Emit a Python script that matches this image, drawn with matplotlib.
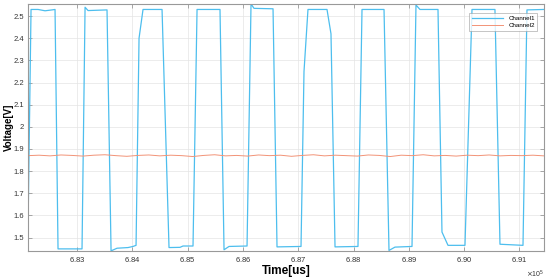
import numpy as np
import matplotlib
matplotlib.use("Agg")
import matplotlib.pyplot as plt
from matplotlib.ticker import ScalarFormatter

plt.rcParams["font.family"] = ["Liberation Sans", "DejaVu Sans"]

# Channel1 - vertices of the square wave (time in us, voltage in V)
ch1_t = [682114, 682168, 682295, 682421, 682548, 682602, 682656, 683090,
         683145, 683199, 683542, 683615, 683723, 683922, 684012, 684067,
         684121, 684193, 684537, 684663, 684862, 684916, 685097, 685170,
         685585, 685658, 685748, 686074, 686146, 686200, 686544, 686616,
         687050, 687104, 687176, 687520, 687592, 687665, 688080, 688153,
         688551, 688641, 688749, 689057, 689129, 689201, 689527, 689599,
         689708, 690015, 690142, 690557, 690648, 691064, 691136, 691443]
ch1_v = [1.55, 2.53, 2.53, 2.524, 2.528, 2.53, 1.449, 1.449,
         2.54, 2.525, 2.528, 1.44, 1.452, 1.455, 1.46, 1.465,
         2.40, 2.53, 2.53, 1.455, 1.456, 1.462, 1.462, 2.53,
         2.53, 1.445, 1.46, 1.462, 2.555, 2.535, 2.533, 1.458,
         1.46, 2.25, 2.53, 2.53, 2.42, 1.458, 1.46, 2.53,
         2.53, 1.442, 1.457, 1.46, 2.55, 2.53, 2.53, 1.525,
         1.465, 1.465, 2.53, 2.53, 1.47, 1.465, 2.528, 2.53]

# Channel2 - nearly flat trace around 1.87 V
ch2_v = [1.870, 1.872, 1.869, 1.873, 1.871, 1.868, 1.872, 1.874, 1.870, 1.867,
         1.871, 1.873, 1.869, 1.872, 1.870, 1.866, 1.871, 1.874, 1.869, 1.871,
         1.868, 1.873, 1.870, 1.872, 1.867, 1.871, 1.874, 1.869, 1.872, 1.870,
         1.868, 1.873, 1.871, 1.866, 1.872, 1.870, 1.874, 1.869, 1.871, 1.868,
         1.872, 1.870, 1.873, 1.869, 1.871, 1.870, 1.872, 1.869]
ch2_t = np.linspace(ch1_t[0], ch1_t[-1], len(ch2_v))

xticks = [683000, 684000, 685000, 686000, 687000, 688000, 689000, 690000, 691000]
yticks = [1.5, 1.6, 1.7, 1.8, 1.9, 2.0, 2.1, 2.2, 2.3, 2.4, 2.5]
ytick_labels = ["1.5", "1.6", "1.7", "1.8", "1.9", "2", "2.1", "2.2", "2.3", "2.4", "2.5"]

fig = plt.figure(figsize=(5.5, 2.8), dpi=100)
ax = fig.add_axes([0.051, 0.104, 0.938, 0.882])

ax.plot(ch1_t, ch1_v, color="#4DBEEE", lw=0.9, label="Channel1")
ax.plot(ch2_t, ch2_v, color="#F29377", lw=0.7, label="Channel2")

ax.set_xlim(ch1_t[0], ch1_t[-1])
ax.set_ylim(1.44, 2.555)
ax.set_xticks(xticks)
ax.set_yticks(yticks)
ax.set_yticklabels(ytick_labels)

fmt = ScalarFormatter(useMathText=True)
fmt.set_scientific(True)
fmt.set_powerlimits((0, 0))
fmt.set_useOffset(False)
ax.xaxis.set_major_formatter(fmt)
ax.xaxis.get_offset_text().set_fontsize(5)
ax.xaxis.get_offset_text().set_color("#404040")

ax.grid(True, color="#e4e4e4", lw=0.5)
for s in ax.spines.values():
    s.set_color("#999999")
    s.set_linewidth(0.8)
ax.tick_params(direction="in", length=3, width=0.6, color="#999999",
               labelsize=5.5, labelcolor="#333333", top=True, right=True)
ax.tick_params(axis="x", pad=3)
ax.tick_params(axis="y", pad=3)

ax.set_xlabel("Time[us]", fontsize=8.5, fontweight="bold", labelpad=1)
ax.set_ylabel("Voltage[V]", fontsize=7, fontweight="bold")
ax.yaxis.set_label_coords(-0.028, 0.5)

leg = ax.legend(loc="upper right", fontsize=4.5, frameon=True, fancybox=False,
                handlelength=5, borderpad=0.4, labelspacing=0.3,
                bbox_to_anchor=(0.993, 0.975))
leg.get_frame().set_edgecolor("#999999")
leg.get_frame().set_linewidth(0.5)

fig.savefig("out.png", dpi=100)
